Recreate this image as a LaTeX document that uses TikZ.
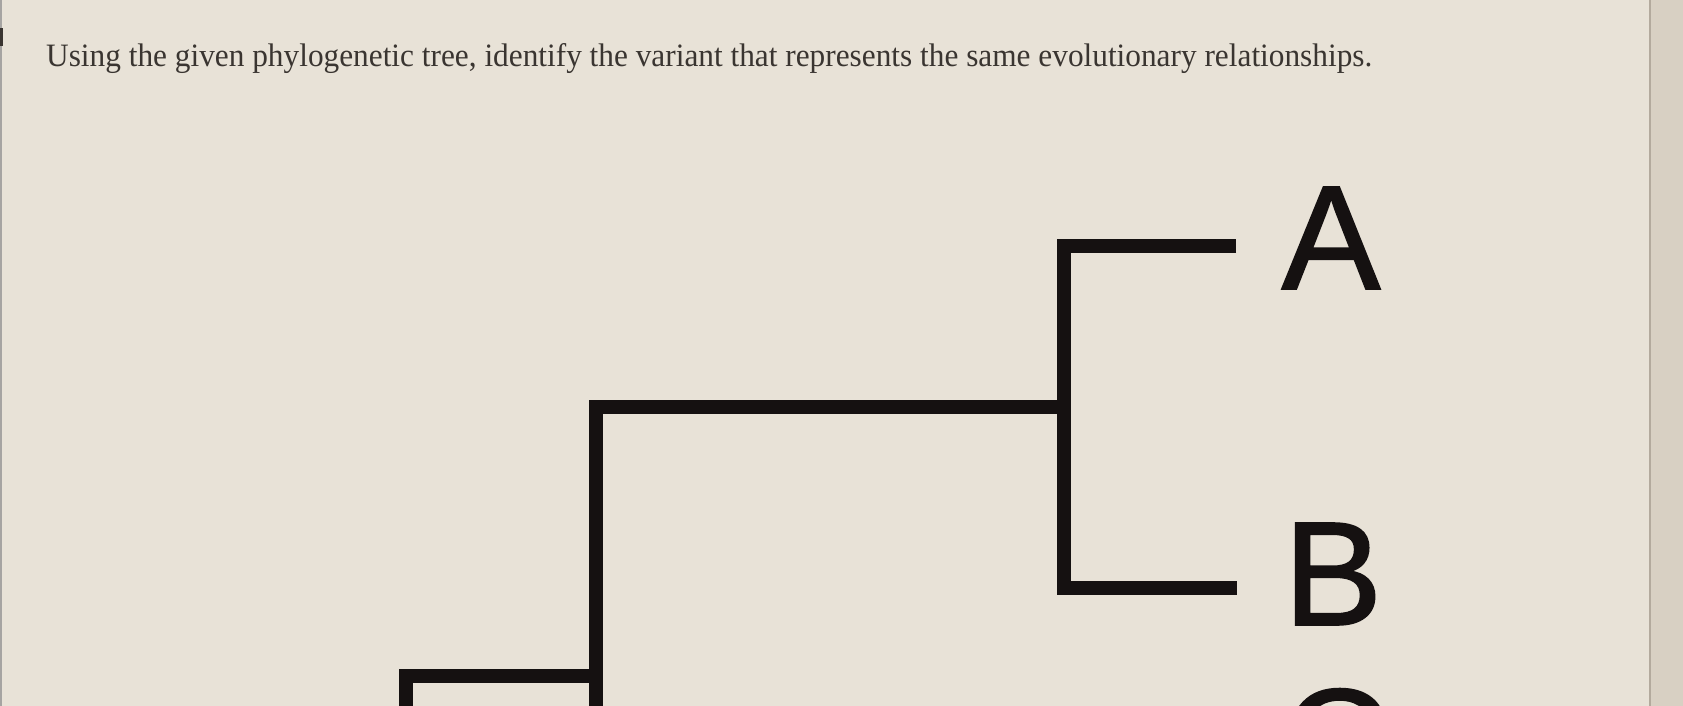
\documentclass[tikz,border=0pt]{standalone}
\usepackage{fontspec}
\setmainfont{Liberation Serif}
\newfontfamily\labelfont[FakeBold=1.2]{Liberation Sans}
\definecolor{paper}{HTML}{E8E2D7}
\definecolor{paperdark}{HTML}{D8D0C3}
\definecolor{divider}{HTML}{B3AA9D}
\definecolor{ink}{HTML}{151111}
\definecolor{textink}{HTML}{3A3531}
\tikzset{
  branch/.style={draw=ink, line width=14pt, line cap=butt, line join=miter},
  leaf/.style={font=\labelfont\fontsize{148}{148}\selectfont, text=ink, inner sep=0pt, anchor=center},
  question/.style={font=\fontsize{27}{30}\selectfont, text=textink, inner sep=0pt, anchor=base west}
}
\begin{document}
\begin{tikzpicture}[x={(1pt,0)}, y={(0,-1pt)}]
\useasboundingbox (0,0) rectangle (1683,706);
\clip (0,0) rectangle (1683,706);
% background
\fill[paper] (0,0) rectangle (1683,706);
\fill[paperdark] (1650,0) rectangle (1683,706);
\draw[divider, line width=1.5pt] (1650,0) -- (1650,706);
\fill[textink!45] (0,0) rectangle (2,706);
\fill[textink] (0,28) rectangle (3,46);
% question text
\node[question] (q) at (46,67) {\resizebox{1326pt}{23pt}{Using the given phylogenetic tree, identify the variant that represents the same evolutionary relationships.}};
% leaf labels
\node[leaf] (A) at (1331,238) {A};
\node[leaf] (B) at (1333,574) {B};
\node[leaf] (C) at (1336,741) {C};
% tree coordinates
\coordinate (tA) at (1236,246);
\coordinate (tB) at (1237,588);
\coordinate (n1) at (1064,407);
\coordinate (n2) at (596,407);
\coordinate (n2low) at (596,720);
\coordinate (n3) at (596,676);
\coordinate (n4) at (406,676);
\coordinate (n4low) at (406,720);
% branches
\draw[branch] (tA) -- (1064,246) -- (1064,588) -- (tB);
\draw[branch] (n1) -- (n2) -- (n2low);
\draw[branch] (n3) -- (n4) -- (n4low);
\end{tikzpicture}
\end{document}
